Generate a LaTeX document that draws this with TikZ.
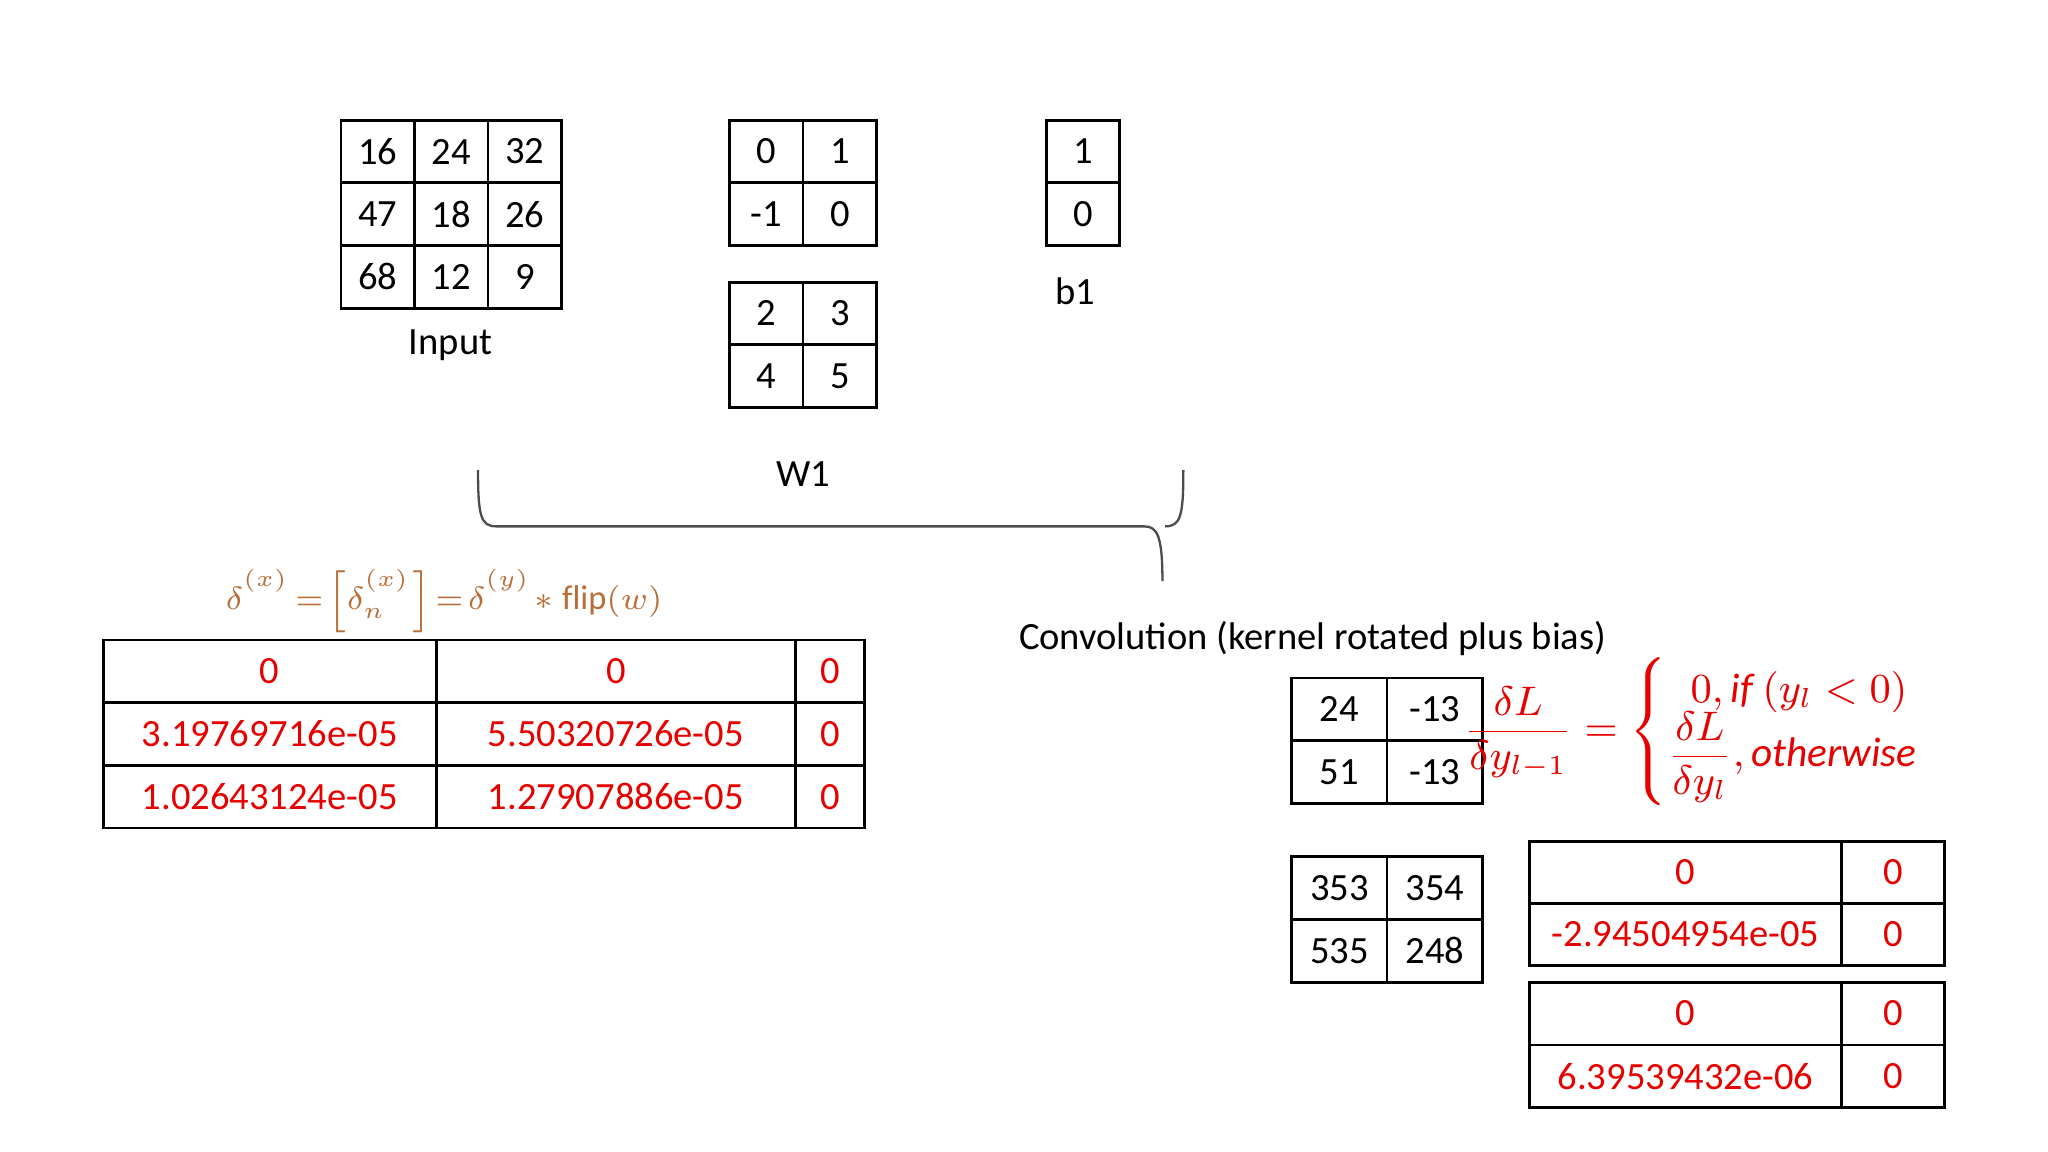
\documentclass[tikz,border=0pt]{standalone}
\usepackage{fontspec}
\setmainfont{Carlito}
\usepackage{amsmath}
\definecolor{rd}{RGB}{230,0,0}
\definecolor{orng}{RGB}{185,110,55}
\newcommand\cellb[7][black]{\node[cell,text=#1,minimum width=#5mm,minimum height=#6mm] (#2) at (#3,#4) {#7};}
\tikzset{cell/.style={draw=black,line width=0.6pt,inner sep=0pt,font=\fontsize{8.4}{10}\selectfont},
 lbl/.style={font=\fontsize{8.4}{10}\selectfont}}
\begin{document}
\begin{tikzpicture}[x=0.1mm,y=-0.1mm]
\useasboundingbox (0,0) rectangle (1568,882);
% Input
\foreach \r/\a/\b/\c [count=\i] in {116/16/24/32,164/47/18/26,212/68/12/9}{
 \cellb{in\i a}{289.2}{\r}{5.63}{4.8}{\a}
 \cellb{in\i b}{345.5}{\r}{5.63}{4.8}{\b}
 \cellb{in\i c}{401.8}{\r}{5.63}{4.8}{\c}}
\node[lbl] (inputlbl) at (345,264) {Input};
% W1
\cellb{wa}{586.5}{116}{5.65}{4.8}{0}\cellb{wb}{643}{116}{5.65}{4.8}{1}
\cellb{wc}{586.5}{164}{5.65}{4.8}{-1}\cellb{wd}{643}{164}{5.65}{4.8}{0}
\cellb{we}{586.5}{240}{5.65}{4.8}{2}\cellb{wf}{643}{240}{5.65}{4.8}{3}
\cellb{wg}{586.5}{288}{5.65}{4.8}{4}\cellb{wh}{643}{288}{5.65}{4.8}{5}
\node[lbl] (w1lbl) at (615,363) {W1};
% b1
\cellb{ba}{829}{116}{5.6}{4.8}{1}\cellb{bb}{829}{164}{5.6}{4.8}{0}
\node[lbl] (b1lbl) at (823,223) {b1};
% brace
\coordinate (bl) at (366,360); \coordinate (br) at (906,360); \coordinate (bt) at (890,445);
\draw[line width=0.5pt,black!70] (bl) .. controls (366,395) and (368,403) .. (380,403) -- (876,403)
  .. controls (886,403) and (890,410) .. (bt);
\draw[line width=0.5pt,black!70] (br) .. controls (906,395) and (904,403) .. (892,403);
% formula
\node[text=orng,font=\fontsize{7.5}{9}\selectfont] (form) at (340,460)
 {$\delta^{^{(x)}}\!=\!\Bigl[\delta_n^{^{(x)}}\Bigr]\!=\!\delta^{^{(y)}}\!*\mathrm{flip}(w)$};
% left table
\foreach \y/\a/\b [count=\i] in {514/0/0,562/3.19769716e-05/5.50320726e-05,610/1.02643124e-05/1.27907886e-05}{
 \cellb[rd]{lt\i a}{206.5}{\y}{25.5}{4.8}{\a}
 \cellb[rd]{lt\i b}{471.5}{\y}{27.5}{4.8}{\b}
 \cellb[rd]{lt\i c}{635.5}{\y}{5.3}{4.8}{0}}
% convolution
\node[lbl] (convlbl) at (1005,489) {Convolution (kernel rotated plus bias)};
\cellb{ca}{1025.5}{543}{7.3}{4.8}{24}\cellb{cb}{1098.5}{543}{7.3}{4.8}{-13}
\cellb{cc}{1025.5}{591}{7.3}{4.8}{51}\cellb{cd}{1098.5}{591}{7.3}{4.8}{-13}
\cellb{da}{1025.5}{680}{7.3}{4.8}{353}\cellb{db}{1098.5}{680}{7.3}{4.8}{354}
\cellb{dc}{1025.5}{728}{7.3}{4.8}{535}\cellb{dd}{1098.5}{728}{7.3}{4.8}{248}
% right tables
\cellb[rd]{ea}{1290.5}{668}{23.9}{4.75}{0}\cellb[rd]{eb}{1449.5}{668}{7.9}{4.75}{0}
\cellb[rd]{ec}{1290.5}{715.5}{23.9}{4.75}{-2.94504954e-05}\cellb[rd]{ed}{1449.5}{715.5}{7.9}{4.75}{0}
\cellb[rd]{fa}{1290.5}{776}{23.9}{4.8}{0}\cellb[rd]{fb}{1449.5}{776}{7.9}{4.8}{0}
\cellb[rd]{fc}{1290.5}{824}{23.9}{4.8}{6.39539432e-06}\cellb[rd]{fd}{1449.5}{824}{7.9}{4.8}{0}
% equation
\node[text=rd,font=\fontsize{9}{11}\selectfont,inner sep=0pt] (eq) at (1312,560)
 {$\dfrac{\delta L}{\delta y_{l-1}}=\begin{cases}\;\;0,\mathit{if}\ (y_l<0)\\[-2pt] \dfrac{\delta L}{\delta y_l},\mathit{otherwise}\end{cases}$};
\end{tikzpicture}
\end{document}
